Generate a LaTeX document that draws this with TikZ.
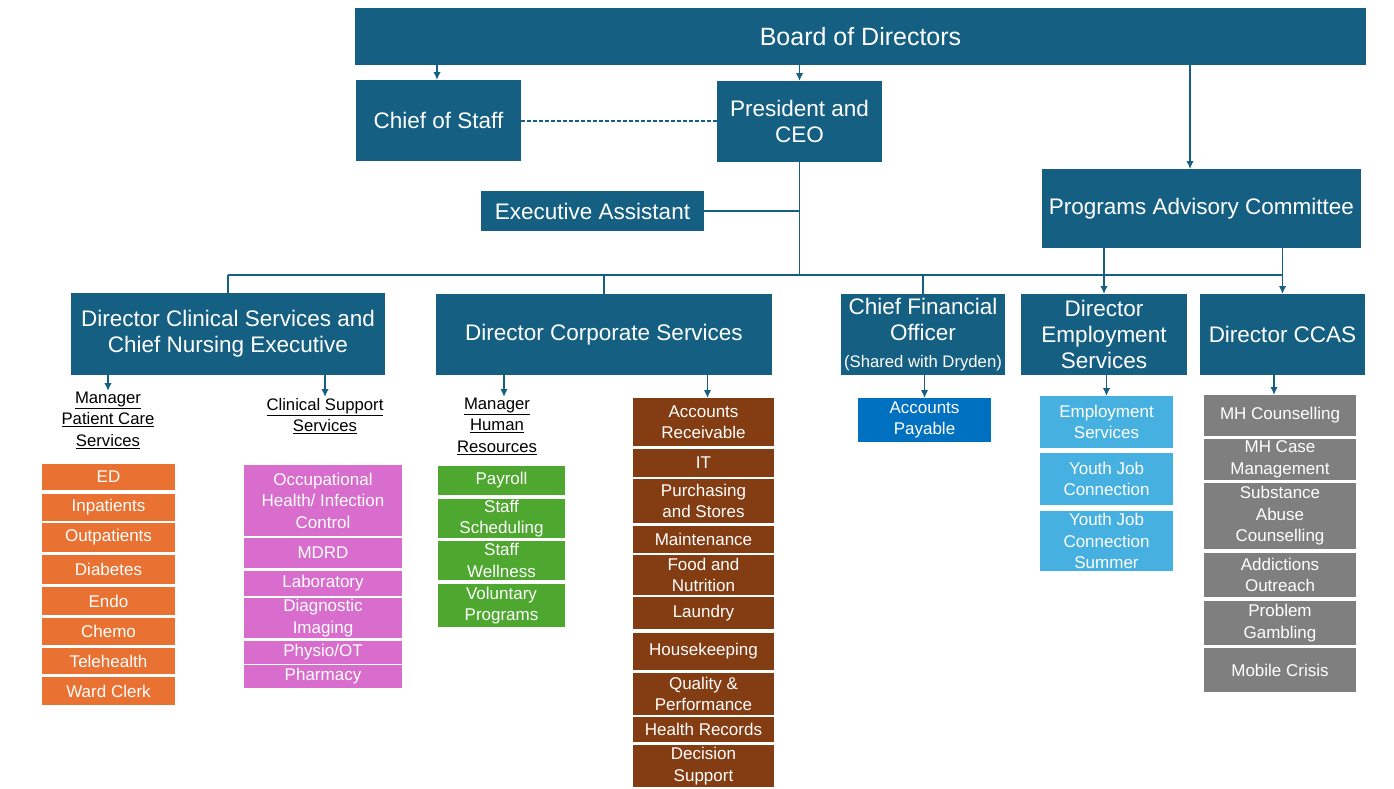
\documentclass[tikz,border=0pt]{standalone}
\usepackage{fontspec}
\setmainfont{Liberation Sans}
\usepackage{tikz}
\usetikzlibrary{arrows.meta,positioning}
\definecolor{cteal}{HTML}{156082}
\definecolor{corange}{HTML}{E97132}
\definecolor{cpink}{HTML}{D86DCD}
\definecolor{cgreen}{HTML}{4EA72E}
\definecolor{cbrown}{HTML}{843C12}
\definecolor{cblue}{HTML}{0070C0}
\definecolor{clblue}{HTML}{46B1E1}
\definecolor{cgray}{HTML}{7F7F7F}

\begin{document}
\begin{tikzpicture}[x=1pt,y=-1pt,
  box/.style={rectangle,fill=cteal,text=white,inner sep=0pt,outer sep=0pt,align=center,font=\fontsize{22.5}{26}\selectfont},
  sub/.style={rectangle,text=white,inner sep=0pt,outer sep=0pt,align=center,font=\fontsize{17}{21.5}\selectfont},
  obox/.style={sub,fill=corange,minimum width=133pt},
  pbox/.style={sub,fill=cpink,minimum width=158pt},
  gbox/.style={sub,fill=cgreen,minimum width=127pt},
  bbox/.style={sub,fill=cbrown,minimum width=141pt},
  lbox/.style={sub,fill=clblue,minimum width=133pt},
  ybox/.style={sub,fill=cgray,minimum width=152pt},
  mgr/.style={align=center,inner sep=1pt,outer sep=0pt,font=\fontsize{16.7}{21.5}\selectfont},
  arr/.style={-{Latex[length=8pt,width=7.5pt]},cteal,line width=1.8pt},
  ln/.style={cteal,line width=1.8pt}]

  \fill[white] (0,0) rectangle (1394,788);
  \useasboundingbox (0,0) rectangle (1394,788);

  % top level
  \node[box,minimum width=1011pt,minimum height=57pt,font=\fontsize{25}{30}\selectfont] (board) at (860.5,36.5) {Board of Directors};
  \node[box,minimum width=165pt,minimum height=81pt] (cos) at (438.5,120.5) {Chief of Staff};
  \node[box,minimum width=165pt,minimum height=81pt] (ceo) at (799.5,121.5) {President and\\CEO};
  \node[box,minimum width=223pt,minimum height=40pt] (ea) at (592.5,211) {Executive Assistant};
  \node[box,minimum width=319pt,minimum height=79pt] (pac) at (1201.5,208.5) {Programs Advisory Committee};

  % directors
  \node[box,minimum width=314pt,minimum height=82pt] (dclin) at (228,334) {Director Clinical Services and\\Chief Nursing Executive};
  \node[box,minimum width=336pt,minimum height=81pt] (dcorp) at (604,334.5) {Director Corporate Services};
  \node[box,minimum width=164pt,minimum height=81pt] (cfo) at (923,334.5) {Chief Financial\\Officer\\[1pt]{\fontsize{16.7}{20}\selectfont(Shared with Dryden)}};
  \node[box,minimum width=166pt,minimum height=81pt] (demp) at (1104,334.5) {Director\\Employment\\Services};
  \node[box,minimum width=165pt,minimum height=81pt] (dccas) at (1282.5,334.5) {Director CCAS};

  % managers
  \node[mgr,anchor=north] (mpcs) at (108,391) {\underline{Manager}\\\underline{Patient Care}\\\underline{Services}};
  \node[mgr,anchor=north] (css) at (325,397) {\underline{Clinical Support}\\\underline{Services}};
  \node[mgr,anchor=north] (mhr) at (497,397) {\underline{Manager}\\\underline{Human}\\\underline{Resources}};

  % patient care
  \node[obox,minimum height=26pt,anchor=north] (ed) at (108.5,464) {ED};
  \node[obox,minimum height=27pt,below=4pt of ed] (inp) {Inpatients};
  \node[obox,minimum height=29pt,below=2pt of inp] (outp) {Outpatients};
  \node[obox,minimum height=29pt,below=3pt of outp] (diab) {Diabetes};
  \node[obox,minimum height=28pt,below=3pt of diab] (endo) {Endo};
  \node[obox,minimum height=27pt,below=3pt of endo] (chemo) {Chemo};
  \node[obox,minimum height=26pt,below=3pt of chemo] (tele) {Telehealth};
  \node[obox,minimum height=28pt,below=3pt of tele] (ward) {Ward Clerk};

  % clinical support
  \node[pbox,minimum height=71pt,anchor=north] (ohic) at (323,465) {Occupational\\Health/ Infection\\Control};
  \node[pbox,minimum height=30pt,below=2pt of ohic] (mdrd) {MDRD};
  \node[pbox,minimum height=25pt,below=3pt of mdrd] (lab) {Laboratory};
  \node[pbox,minimum height=40pt,below=2pt of lab] (diag) {Diagnostic\\Imaging};
  \node[pbox,minimum height=23pt,below=3pt of diag] (physio) {Physio/OT};
  \node[pbox,minimum height=23pt,below=1pt of physio] (pharm) {Pharmacy};

  % human resources
  \node[gbox,minimum height=29pt,anchor=north] (pay) at (501.5,466) {Payroll};
  \node[gbox,minimum height=39pt,below=4pt of pay] (ssch) {Staff\\Scheduling};
  \node[gbox,minimum height=39pt,below=3pt of ssch] (swell) {Staff\\Wellness};
  \node[gbox,minimum height=43pt,below=4pt of swell] (vol) {Voluntary\\Programs};

  % corporate
  \node[bbox,minimum height=48pt,anchor=north] (ar) at (703.5,398) {Accounts\\Receivable};
  \node[bbox,minimum height=28pt,below=3pt of ar] (it) {IT};
  \node[bbox,minimum height=44pt,below=2pt of it] (purch) {Purchasing\\and Stores};
  \node[bbox,minimum height=27pt,below=3pt of purch] (maint) {Maintenance};
  \node[bbox,minimum height=40pt,below=2pt of maint] (food) {Food and\\Nutrition};
  \node[bbox,minimum height=32pt,below=2pt of food] (laundry) {Laundry};
  \node[bbox,minimum height=37pt,below=4pt of laundry] (house) {Housekeeping};
  \node[bbox,minimum height=42pt,below=3pt of house] (qual) {Quality \&\\Performance};
  \node[bbox,minimum height=25pt,below=2pt of qual] (hrec) {Health Records};
  \node[bbox,minimum height=42pt,below=3pt of hrec] (dsup) {Decision\\Support};

  % finance
  \node[sub,fill=cblue,minimum width=133pt,minimum height=44pt,anchor=north] (ap) at (924.5,398) {Accounts\\Payable};

  % employment
  \node[lbox,minimum height=52pt,anchor=north] (es) at (1106.5,396) {Employment\\Services};
  \node[lbox,minimum height=52pt,below=5pt of es] (yjc) {Youth Job\\Connection};
  \node[lbox,minimum height=60pt,below=6pt of yjc] (yjcs) {Youth Job\\Connection\\Summer};

  % ccas
  \node[ybox,minimum height=41pt,anchor=north] (mhc) at (1280,395) {MH Counselling};
  \node[ybox,minimum height=41pt,below=3pt of mhc] (mhcm) {MH Case\\Management};
  \node[ybox,minimum height=66pt,below=3pt of mhcm] (sac) {Substance\\Abuse\\Counselling};
  \node[ybox,minimum height=44pt,below=4pt of sac] (ao) {Addictions\\Outreach};
  \node[ybox,minimum height=44pt,below=4pt of ao] (pg) {Problem\\Gambling};
  \node[ybox,minimum height=44pt,below=3pt of pg] (mc) {Mobile Crisis};

  \coordinate (pacin) at (1190,169);
  \coordinate (bus) at (799,275);

  % board links
  \draw[arr] (board.south -| 437,0) -- (cos.north -| 437,0);
  \draw[arr] (board.south -| ceo.north) -- (ceo.north);
  \draw[arr] (board.south -| pacin) -- (pacin);
  \draw[ln,dash pattern=on 4pt off 2pt] (cos.east |- 0,121) -- (ceo.west |- 0,121);

  % ceo down to directors
  \draw[ln] (ceo.south) -- (ceo.south |- bus);
  \draw[ln] (ea.east) -- (ea.east -| ceo.south);
  \draw[ln] (dclin.north |- bus) -- (dccas.north |- bus);
  \draw[ln] (dclin.north |- bus) -- (dclin.north);
  \draw[ln] (dcorp.north |- bus) -- (dcorp.north);
  \draw[ln] (cfo.north |- bus) -- (cfo.north);
  \draw[arr] (pac.south -| demp.north) -- (demp.north);
  \draw[arr] (pac.south -| dccas.north) -- (dccas.north);

  % directors down
  \draw[arr] (dclin.south -| mpcs.north) -- (mpcs.north);
  \draw[arr] (dclin.south -| css.north) -- (css.north);
  \draw[arr] ([xshift=7pt]mhr.north |- dcorp.south) -- ([xshift=7pt]mhr.north);
  \draw[arr] ([xshift=4pt]ar.north |- dcorp.south) -- ([xshift=4pt]ar.north);
  \draw[arr] (cfo.south -| ap.north) -- (ap.north);
  \draw[arr] (demp.south -| es.north) -- (es.north);
  \draw[arr] ([xshift=-6pt]mhc.north |- dccas.south) -- ([xshift=-6pt]mhc.north);
\end{tikzpicture}
\end{document}
